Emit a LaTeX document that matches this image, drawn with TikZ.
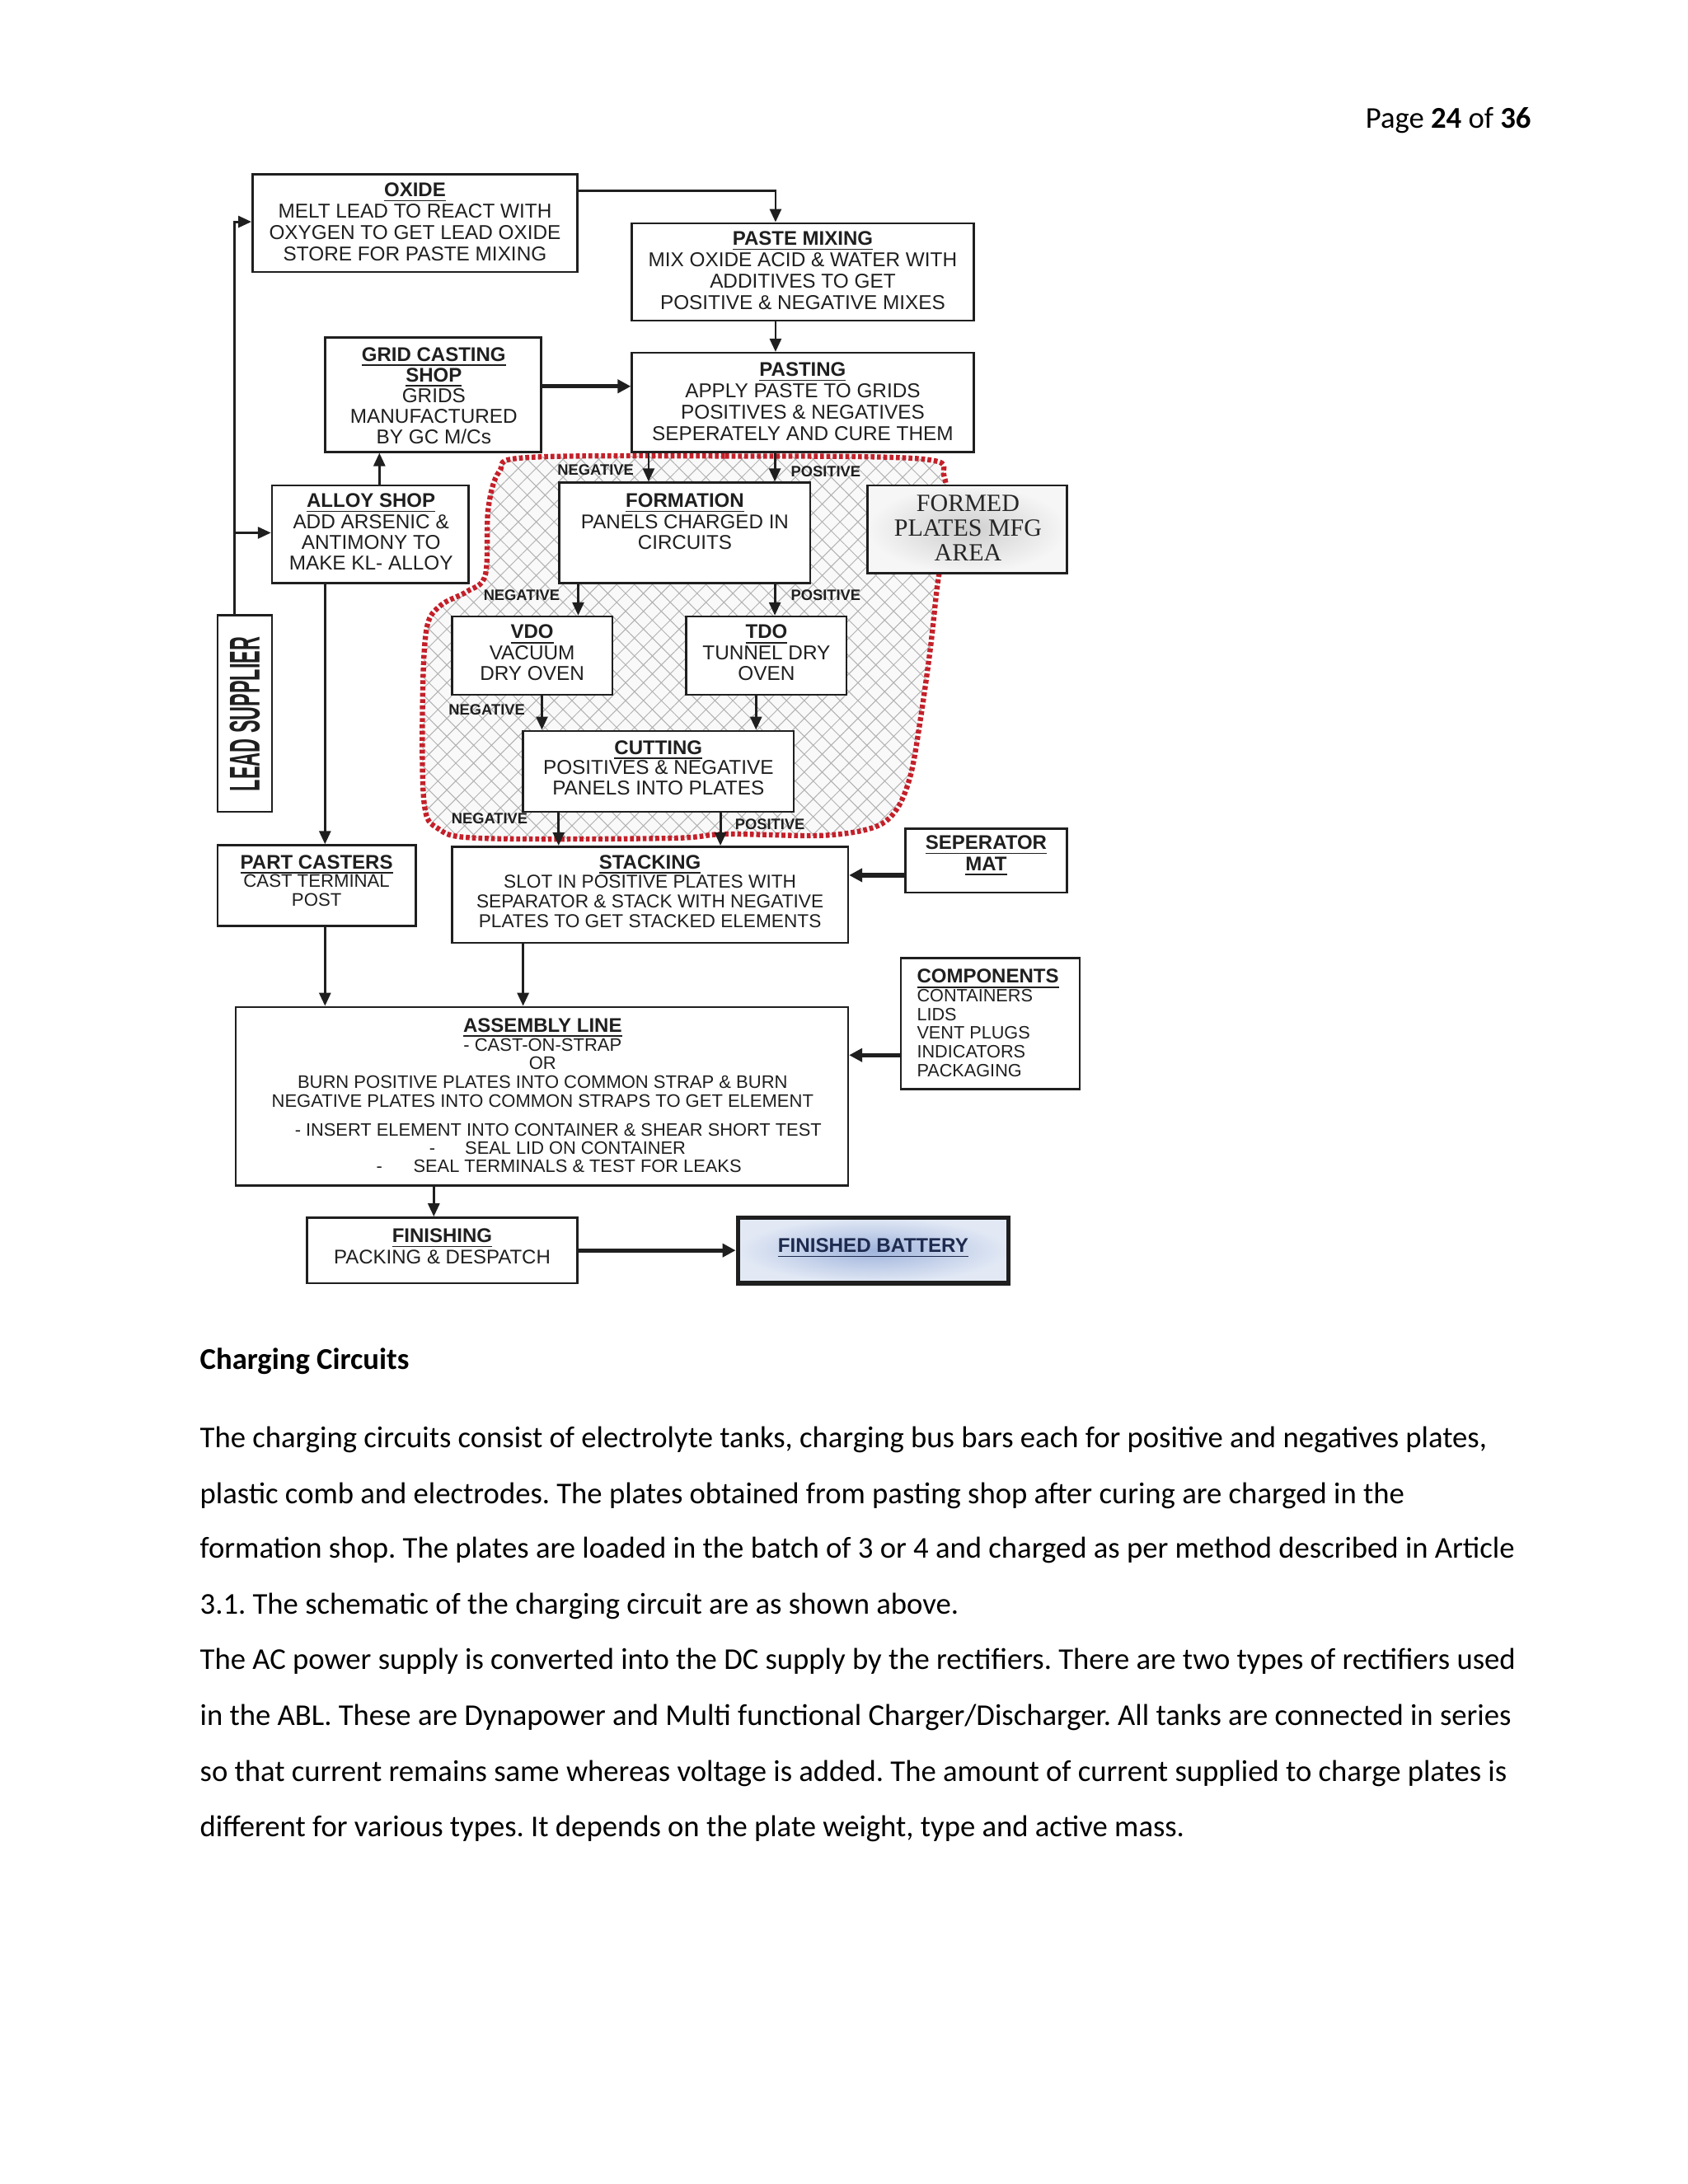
\documentclass[tikz,border=0pt]{standalone}
\usepackage{fontspec}
\usepackage{graphicx}
\setmainfont{Carlito}
\newfontfamily\dfont{Liberation Sans}
\newfontfamily\sfont{Liberation Serif}
\usetikzlibrary{arrows.meta,fit,patterns.meta}
\definecolor{ink}{gray}{0.12}
\definecolor{redb}{RGB}{196,32,42}
\definecolor{batout}{RGB}{226,233,245}
\definecolor{batin}{RGB}{160,180,220}
\definecolor{batink}{RGB}{30,42,78}
\newcommand\hd[1]{{\fontsize{7.2}{7.8}\selectfont\bfseries\underline{#1}}}
\frenchspacing
\begin{document}
\begin{tikzpicture}[x=0.50768pt,y=-0.50768pt,
  box/.style={draw=ink, line width=0.75pt, fill=white, inner sep=0pt},
  arr/.style={draw=ink, line width=0.85pt, -{Triangle[length=4.8pt,width=4.2pt]}},
  tarr/.style={draw=ink, line width=1.6pt, -{Triangle[length=4.8pt,width=4.8pt]}},
  txt/.style={align=center, inner sep=0pt, text=ink, font=\dfont\fontsize{7.3}{7.8}\selectfont},
  lab/.style={inner sep=0pt, text=ink, font=\dfont\bfseries\fontsize{5.5}{6}\selectfont},
  body/.style={anchor=base west, inner sep=0pt, font=\fontsize{11}{13}\selectfont}]
\useasboundingbox (0,0) rectangle (1210,1565.9);
\fill[white] (0,0) rectangle (1210,1565.9);

% header
\node[anchor=base east, inner sep=0pt, font=\fontsize{11}{13}\selectfont] (hdr) at (1098,92) {Page \textbf{24} of \textbf{36}};

% hatched formed-plates area
\path[preaction={fill=gray!5}, pattern={Hatch[angle=45,distance=4.6pt,line width=0.3pt]}, pattern color=gray!60]
  plot[smooth cycle, tension=0.55] coordinates {(378,328) (520,327) (660,329) (677,342) (678,380) (672,420) (667,465) (660,515) (653,555) (643,580) (627,593) (590,599) (520,598) (480,601) (345,601) (314,594) (304,575) (303,500) (306,450) (316,434) (335,424) (348,412) (350,365) (358,338)};
\draw[redb, line width=1.9pt, dash pattern=on 1.4pt off 0.9pt]
  plot[smooth cycle, tension=0.55] coordinates {(378,328) (520,327) (660,329) (677,342) (678,380) (672,420) (667,465) (660,515) (653,555) (643,580) (627,593) (590,599) (520,598) (480,601) (345,601) (314,594) (304,575) (303,500) (306,450) (316,434) (335,424) (348,412) (350,365) (358,338)};

% boxes
\node[box, fit={(181,125) (414,195)}] (oxide) {};
\node[box, fit={(453,160) (698,230)}] (pmix) {};
\node[box, fit={(233,242) (388,324)}] (grid) {};
\node[box, fit={(453,253) (698,324)}] (pasting) {};
\node[box, fit={(195,348) (336,418)}] (alloy) {};
\node[box, fit={(401,346) (581,418)}] (form) {};
\node[box, fit={(622,348) (765,411)}, fill=none, inner color=gray!38, outer color=gray!7] (formed) {};
\node[box, fit={(324,442) (439,498)}] (vdo) {};
\node[box, fit={(492,442) (607,498)}] (tdo) {};
\node[box, fit={(375,524) (569,582)}] (cut) {};
\node[box, fit={(156,441) (195,582)}] (lead) {};
\node[box, fit={(156,606) (298,664)}] (part) {};
\node[box, fit={(324,607) (608,676)}] (stack) {};
\node[box, fit={(649,594) (765,640)}] (sep) {};
\node[box, fit={(646,687) (774,781)}] (comp) {};
\node[box, fit={(169,722) (608,850)}] (asm) {};
\node[box, fit={(220,873) (414,920)}] (fin) {};
\node[box, fit={(529,873) (723,920)}, line width=1.6pt, fill=none, inner color=batin, outer color=batout] (bat) {};

% box texts
\node[txt] (toxide) at (297.5,159) {\hd{OXIDE}\\MELT LEAD TO REACT WITH\\OXYGEN TO GET LEAD OXIDE\\STORE FOR PASTE MIXING};
\node[txt] (tpmix) at (575.5,194) {\hd{PASTE MIXING}\\MIX OXIDE ACID \& WATER WITH\\ADDITIVES TO GET\\POSITIVE \& NEGATIVE MIXES};
\node[txt, font=\dfont\fontsize{7.3}{7.5}\selectfont] (tgrid) at (311,283.5) {\hd{GRID CASTING}\\\hd{SHOP}\\GRIDS\\MANUFACTURED\\BY GC M/Cs};
\node[txt] (tpasting) at (575.5,288) {\hd{PASTING}\\APPLY PASTE TO GRIDS\\POSITIVES \& NEGATIVES\\SEPERATELY AND CURE THEM};
\node[txt, font=\dfont\fontsize{7.3}{7.6}\selectfont] (talloy) at (266,381.5) {\hd{ALLOY SHOP}\\ADD ARSENIC \&\\ANTIMONY TO\\MAKE KL- ALLOY};
\node[txt, font=\dfont\fontsize{7.25}{7.6}\selectfont] (tform) at (491,374) {\hd{FORMATION}\\PANELS CHARGED IN\\CIRCUITS};
\node[txt, font=\sfont\fontsize{9}{8.9}\selectfont, text=black!85] (tformed) at (694,378.5) {FORMED\\PLATES MFG\\AREA};
\node[txt, font=\dfont\fontsize{7.3}{7.6}\selectfont] (tvdo) at (381.5,468) {\hd{VDO}\\VACUUM\\DRY OVEN};
\node[txt, font=\dfont\fontsize{7.3}{7.6}\selectfont] (ttdo) at (549.5,468) {\hd{TDO}\\TUNNEL DRY\\OVEN};
\node[txt, font=\dfont\fontsize{7.3}{7.4}\selectfont] (tcut) at (472,550.5) {\hd{CUTTING}\\POSITIVES \& NEGATIVE\\PANELS INTO PLATES};
\node[inner sep=0pt, rotate=90, text=ink, font=\dfont\bfseries\fontsize{15.6}{16}\selectfont] (tlead) at (175.5,512) {\scalebox{0.45}[1]{LEAD SUPPLIER}};
\node[txt, font=\dfont\fontsize{6.65}{6.85}\selectfont] (tpart) at (227,631.5) {\hd{PART CASTERS}\\CAST TERMINAL\\POST};
\node[txt, font=\dfont\fontsize{6.8}{7.1}\selectfont] (tstack) at (466,639) {\hd{STACKING}\\SLOT IN POSITIVE PLATES WITH\\SEPARATOR \& STACK WITH NEGATIVE\\PLATES TO GET STACKED ELEMENTS};
\node[txt] (tsep) at (707,613.5) {\hd{SEPERATOR}\\\hd{MAT}};
\node[txt, align=left, anchor=west, font=\dfont\fontsize{6.5}{6.8}\selectfont] (tcomp) at (657,733.5) {\hd{COMPONENTS}\\CONTAINERS\\LIDS\\VENT PLUGS\\INDICATORS\\PACKAGING};
\node[txt, font=\dfont\fontsize{6.6}{6.85}\selectfont] (tasm) at (389,762) {\hd{ASSEMBLY LINE}\\- CAST-ON-STRAP\\OR\\BURN POSITIVE PLATES INTO COMMON STRAP \& BURN\\NEGATIVE PLATES INTO COMMON STRAPS TO GET ELEMENT};
\node[txt, anchor=base west, font=\dfont\fontsize{6.55}{6.85}\selectfont] (tasm2) at (211,814.6) {- INSERT ELEMENT INTO CONTAINER \& SHEAR SHORT TEST};
\node[txt, anchor=base, font=\dfont\fontsize{6.55}{6.85}\selectfont] (tasm3d) at (310,827.6) {-};
\node[txt, anchor=base west, font=\dfont\fontsize{6.55}{6.85}\selectfont] (tasm3) at (333,827.6) {SEAL LID ON CONTAINER};
\node[txt, anchor=base, font=\dfont\fontsize{6.55}{6.85}\selectfont] (tasm4d) at (272,840.6) {-};
\node[txt, anchor=base west, font=\dfont\fontsize{6.55}{6.85}\selectfont] (tasm4) at (296,840.6) {SEAL TERMINALS \& TEST FOR LEAKS};
\node[txt, font=\dfont\fontsize{7.2}{7.6}\selectfont] (tfin) at (317,893.5) {\hd{FINISHING}\\PACKING \& DESPATCH};
\node[txt, text=batink, font=\dfont\bfseries\fontsize{7.25}{8}\selectfont] (tbat) at (626,895) {\underline{FINISHED BATTERY}};

% connectors
\coordinate (c1) at (556,137);
\draw[arr] (oxide.east |- c1) -- (c1) -- (pmix.north -| c1);
\draw[arr] (pmix.south -| c1) -- (pasting.north -| c1);
\coordinate (c2) at (0,277);
\draw[tarr] (grid.east |- c2) -- (pasting.west |- c2);
\coordinate (c3) at (272,0);
\draw[arr] (alloy.north -| c3) -- (grid.south -| c3);
\coordinate (c4) at (168,159);
\draw[arr] (lead.north -| c4) -- (c4) -- (oxide.west |- c4);
\coordinate (c5) at (168,382);
\draw[arr] (c5) -- (alloy.west |- c5);
\coordinate (xn1) at (465,0);
\coordinate (xp1) at (555.5,0);
\draw[arr] (pasting.south -| xn1) -- (form.north -| xn1);
\draw[arr] (pasting.south -| xp1) -- (form.north -| xp1);
\coordinate (xn2) at (414.5,0);
\draw[arr] (form.south -| xn2) -- (vdo.north -| xn2);
\draw[arr] (form.south -| xp1) -- (tdo.north -| xp1);
\coordinate (xn3) at (388.5,0);
\coordinate (xp3) at (542,0);
\draw[arr] (vdo.south -| xn3) -- (cut.north -| xn3);
\draw[arr] (tdo.south -| xp3) -- (cut.north -| xp3);
\coordinate (xn4) at (400.5,0);
\coordinate (xp4) at (516.5,0);
\draw[arr] (cut.south -| xn4) -- (stack.north -| xn4);
\draw[arr] (cut.south -| xp4) -- (stack.north -| xp4);
\coordinate (x5) at (233,0);
\draw[arr] (alloy.south -| x5) -- (part.north -| x5);
\draw[arr] (part.south -| x5) -- (asm.north -| x5);
\coordinate (y6) at (0,627.5);
\draw[tarr] (sep.west |- y6) -- (stack.east |- y6);
\coordinate (x7) at (375,0);
\draw[arr] (stack.south -| x7) -- (asm.north -| x7);
\coordinate (y8) at (0,756.5);
\draw[tarr] (comp.west |- y8) -- (asm.east |- y8);
\coordinate (x9) at (311,0);
\draw[arr] (asm.south -| x9) -- (fin.north -| x9);
\coordinate (y10) at (0,896.5);
\draw[tarr] (fin.east |- y10) -- (bat.west |- y10);

% polarity labels
\node[lab] (l1) at (427,337) {NEGATIVE};
\node[lab] (l2) at (592,338) {POSITIVE};
\node[lab] (l3) at (374,427) {NEGATIVE};
\node[lab] (l4) at (592,427) {POSITIVE};
\node[lab] (l5) at (349,509) {NEGATIVE};
\node[lab] (l6) at (351,587) {NEGATIVE};
\node[lab] (l7) at (552,591) {POSITIVE};

% body text
\node[body, font=\bfseries\fontsize{11}{13}\selectfont] (h2) at (143,982) {Charging Circuits};
\node[body] (p1) at (143,1038) {The charging circuits consist of electrolyte tanks, charging bus bars each for positive and negatives plates,};
\node[body] (p2) at (143,1078) {plastic comb and electrodes. The plates obtained from pasting shop after curing are charged in the};
\node[body] (p3) at (143,1117) {formation shop. The plates are loaded in the batch of 3 or 4 and charged as per method described in Article};
\node[body] (p4) at (143,1157) {3.1. The schematic of the charging circuit are as shown above.};
\node[body] (p5) at (143,1197) {The AC power supply is converted into the DC supply by the rectifiers. There are two types of rectifiers used};
\node[body] (p6) at (143,1237) {in the ABL. These are Dynapower and Multi functional Charger/Discharger. All tanks are connected in series};
\node[body] (p7) at (143,1277) {so that current remains same whereas voltage is added. The amount of current supplied to charge plates is};
\node[body] (p8) at (143,1317) {different for various types. It depends on the plate weight, type and active mass.};
\end{tikzpicture}
\end{document}
